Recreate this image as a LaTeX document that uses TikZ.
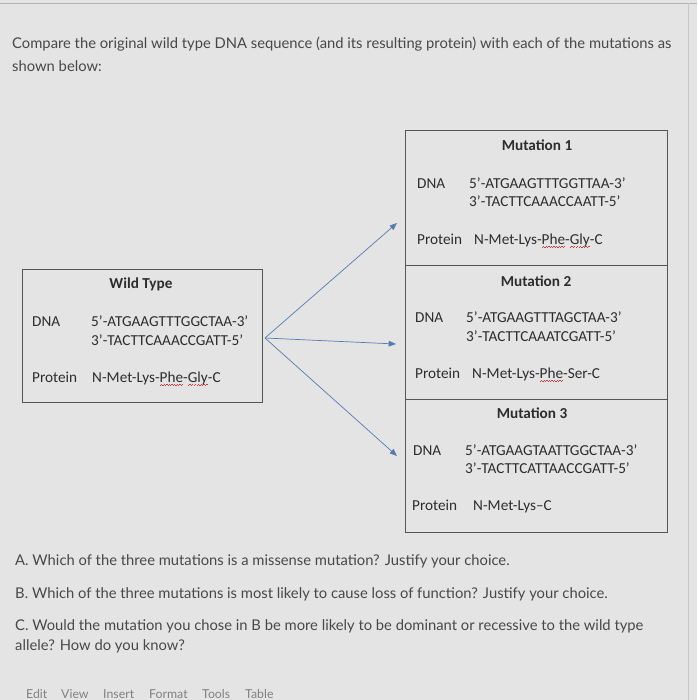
\documentclass[tikz,border=0pt]{standalone}
\usepackage{fontspec}
\setmainfont{Lato}
\newfontfamily\boxfont{Carlito}
\usetikzlibrary{arrows.meta,positioning}
\definecolor{pagebg}{RGB}{228,228,228}
\definecolor{boxline}{RGB}{85,85,85}
\definecolor{boxtext}{RGB}{45,45,45}
\definecolor{asktext}{RGB}{72,72,72}
\definecolor{flowblue}{RGB}{88,122,178}
\definecolor{spellred}{RGB}{205,60,60}
% red spell-check squiggle under a word
\newsavebox\spellbox
\newcommand\spellmark[1]{\sbox\spellbox{#1}\rlap{\color{spellred}\xleaders\hbox{\rule[-3.4pt]{1.1pt}{0.6pt}\rule[-2.7pt]{1.1pt}{0.6pt}}\hskip\wd\spellbox}\usebox\spellbox}

\begin{document}
\begin{tikzpicture}[x=0.03cm, y=-0.03cm,
    every node/.style={inner sep=0pt},
    panel/.style={draw=boxline, line width=0.7pt},
    title/.style={anchor=base, font=\boxfont\bfseries\fontsize{13}{15}\selectfont, text=boxtext},
    lbl/.style={anchor=base west, font=\boxfont\fontsize{13}{15}\selectfont, text=boxtext},
    question/.style={anchor=base west, font=\fontsize{12.6}{15}\selectfont, text=asktext},
    menu/.style={anchor=base west, font=\fontsize{10.5}{12}\selectfont, text=gray},
    flow/.style={draw=flowblue, line width=0.6pt, -{Triangle[length=2.2mm, width=1.7mm]}}]
  \clip (0,0) rectangle (697,700);
  \fill[pagebg] (0,0) rectangle (697,700);
  \draw[gray!60, line width=0.8pt] (0,3) -- (697,3);
  \draw[gray!45, line width=0.6pt] (688,3) -- (688,700);

  % question text
  \node (intro) [question] at (12,48) {Compare the original wild type DNA sequence (and its resulting protein) with each of the mutations as};
  \node (intro2) [question] at (12,71) {shown below:};

  % wild type box
  \node (wt) [panel, minimum width=7.2cm, minimum height=3.99cm] at (142,335.5) {};
  \node (wt-title) [title] at (141,288) {Wild Type};
  \node (wt-dna) [lbl] at (32,326) {DNA};
  \node (wt-top) [lbl] at (91,326) {5’-ATGAAGTTTGGCTAA-3’};
  \node (wt-bot) [lbl] at (91,345) {3’-TACTTCAAACCGATT-5’};
  \node (wt-plbl) [lbl] at (32,382) {Protein};
  \node (wt-prot) [lbl] at (92,382) {N-Met-Lys-\spellmark{Phe}-\spellmark{Gly}-C};

  % mutation boxes
  \node (m1) [panel, minimum width=7.86cm, minimum height=4.05cm] at (536,197.5) {};
  \node (m2) [panel, minimum width=7.86cm, minimum height=4.02cm] at (536,332) {};
  \node (m3) [panel, minimum width=7.86cm, minimum height=3.99cm] at (536,465.5) {};

  \node (m1-title) [title] at (537,150) {Mutation 1};
  \node (m1-dna) [lbl] at (417,188) {DNA};
  \node (m1-top) [lbl] at (469,188) {5’-ATGAAGTTTGGTTAA-3’};
  \node (m1-bot) [lbl] at (469,206) {3’-TACTTCAAACCAATT-5’};
  \node (m1-plbl) [lbl] at (417,244) {Protein};
  \node (m1-prot) [lbl] at (474,244) {N-Met-Lys-\spellmark{Phe}-\spellmark{Gly}-C};

  \node (m2-title) [title] at (536,286) {Mutation 2};
  \node (m2-dna) [lbl] at (415,322) {DNA};
  \node (m2-top) [lbl] at (466,322) {5’-ATGAAGTTTAGCTAA-3’};
  \node (m2-bot) [lbl] at (466,341) {3’-TACTTCAAATCGATT-5’};
  \node (m2-plbl) [lbl] at (415,378) {Protein};
  \node (m2-prot) [lbl] at (472,378) {N-Met-Lys-\spellmark{Phe}-Ser-C};

  \node (m3-title) [title] at (532,418) {Mutation 3};
  \node (m3-dna) [lbl] at (413,455) {DNA};
  \node (m3-top) [lbl] at (465,455) {5’-ATGAAGTAATTGGCTAA-3’};
  \node (m3-bot) [lbl] at (465,473) {3’-TACTTCATTAACCGATT-5’};
  \node (m3-plbl) [lbl] at (412,510) {Protein};
  \node (m3-prot) [lbl] at (473,510) {N-Met-Lys–C};

  % arrows from wild type to mutations
  \coordinate (fork) at (265,338);
  \coordinate (tip1) at (397,223);
  \coordinate (tip2) at (396,344);
  \coordinate (tip3) at (397,456);
  \draw[flow] (fork) -- (tip1);
  \draw[flow] (fork) -- (tip2);
  \draw[flow] (fork) -- (tip3);

  % questions
  \node (qa) [question] at (15,565) {A. Which of the three mutations is a missense mutation? Justify your choice.};
  \node (qb) [question] at (15,598) {B. Which of the three mutations is most likely to cause loss of function? Justify your choice.};
  \node (qc) [question] at (15,630) {C. Would the mutation you chose in B be more likely to be dominant or recessive to the wild type};
  \node (qc2) [question] at (15,650) {allele? How do you know?};

  % editor menu, cut off at the bottom
  \node (edit) [menu] at (26,698) {Edit};
  \node (view) [menu] at (61,698) {View};
  \node (insert) [menu] at (103,698) {Insert};
  \node (format) [menu] at (149,698) {Format};
  \node (tools) [menu] at (202,698) {Tools};
  \node (table) [menu] at (245,698) {Table};
\end{tikzpicture}
\end{document}
